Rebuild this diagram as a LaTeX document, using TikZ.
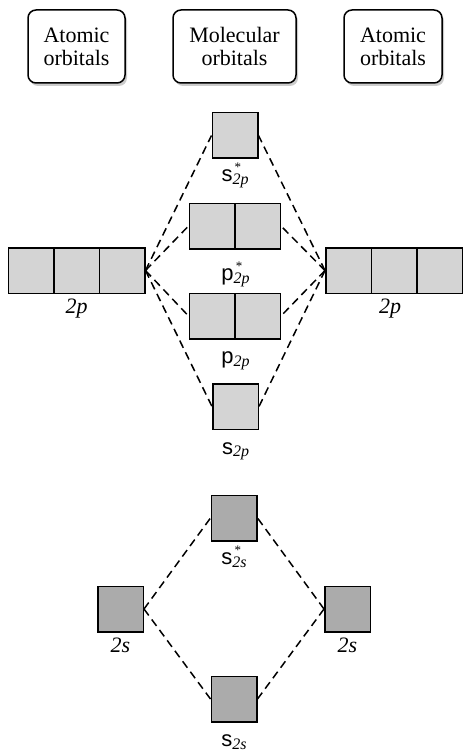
\documentclass[tikz,border=0pt]{standalone}
\usepackage{fontspec}
\setmainfont{Liberation Serif}
\setsansfont{Liberation Sans}
\usetikzlibrary{positioning,shadows}

% molecular orbital label: letter, subscript, optional star
\newcommand{\molab}[3]{\textsf{#1}\rlap{\raisebox{1.0ex}{\fontsize{13}{13}\selectfont\,#3}}{\fontsize{16}{16}\selectfont\raisebox{-0.4ex}{\textit{#2}}}}

\begin{document}
\begin{tikzpicture}[
        x=1pt,y=-1pt,
        header/.style={draw,line width=1.5pt,rounded corners=8pt,fill=white,
            align=center,font=\fontsize{22}{23}\selectfont,
            drop shadow={opacity=0.4,shadow xshift=2pt,shadow yshift=-3pt}},
        orb/.style={draw,line width=1.5pt,fill=black!17,minimum size=45.5pt,inner sep=0pt},
        orbs/.style={orb,fill=black!33},
        lab/.style={font=\fontsize{22}{22}\selectfont,inner sep=1pt},
        link/.style={line width=1.5pt,dash pattern=on 8pt off 5pt}
    ]
    \useasboundingbox (0,0) rectangle (469,754);

    % Headers
    \node[header,minimum width=97pt,minimum height=73pt] (hleft) at (76.5,46.5) {Atomic\\orbitals};
    \node[header,minimum width=123pt,minimum height=73pt] (hmid) at (234.5,46.5) {Molecular\\orbitals};
    \node[header,minimum width=98pt,minimum height=73pt] (hright) at (393,46.5) {Atomic\\orbitals};

    % Atomic 2p orbitals
    \foreach \n/\x in {a/31,b/76.5,c/122}
        \node[orb] (L2p\n) at (\x,270.5) {};
    \foreach \n/\x in {a/348.5,b/394,c/439.5}
        \node[orb] (R2p\n) at (\x,270.5) {};
    \node[lab,below=4pt of L2pb] {\textit{2p}};
    \node[lab,below=4pt of R2pb,xshift=-4pt] {\textit{2p}};

    % Molecular orbitals from 2p
    \node[orb] (s2pstar) at (235,135.5) {};
    \node[orb] (p2pstara) at (212,226) {};
    \node[orb] (p2pstarb) at (257.5,226) {};
    \node[orb] (p2pa) at (212,316) {};
    \node[orb] (p2pb) at (257.5,316) {};
    \node[orb] (s2p) at (235.5,406.5) {};
    \node[lab,below=3pt of s2pstar] {\molab{s}{2p}{*}};
    \node[lab,below=11pt of p2pstara.south east] {\molab{p}{2p}{*}};
    \node[lab,below=11pt of p2pa.south east] {\molab{p}{2p}{}};
    \node[lab,below=11pt of s2p] {\molab{s}{2p}{}};

    % Atomic 2s orbitals
    \node[orbs] (L2s) at (120.5,609) {};
    \node[orbs] (R2s) at (347.5,609) {};
    \node[lab,below=4pt of L2s] {\textit{2s}};
    \node[lab,below=4pt of R2s] {\textit{2s}};

    % Molecular orbitals from 2s
    \node[orbs] (s2sstar) at (234,518) {};
    \node[orbs] (s2s) at (234,699) {};
    \node[lab,below=3pt of s2sstar] {\molab{s}{2s}{*}};
    \node[lab,below=11pt of s2s] {\molab{s}{2s}{}};

    % Correlation lines
    \foreach \m/\k in {s2pstar/s2pstar,p2pstara/p2pstarb,p2pa/p2pb,s2p/s2p}
    {
        \draw[link] (L2pc.east) -- (\m.west);
        \draw[link] (R2pa.west) -- (\k.east);
    }
    \foreach \m in {s2sstar,s2s}
    {
        \draw[link] (L2s.east) -- (\m.west);
        \draw[link] (R2s.west) -- (\m.east);
    }
\end{tikzpicture}
\end{document}
